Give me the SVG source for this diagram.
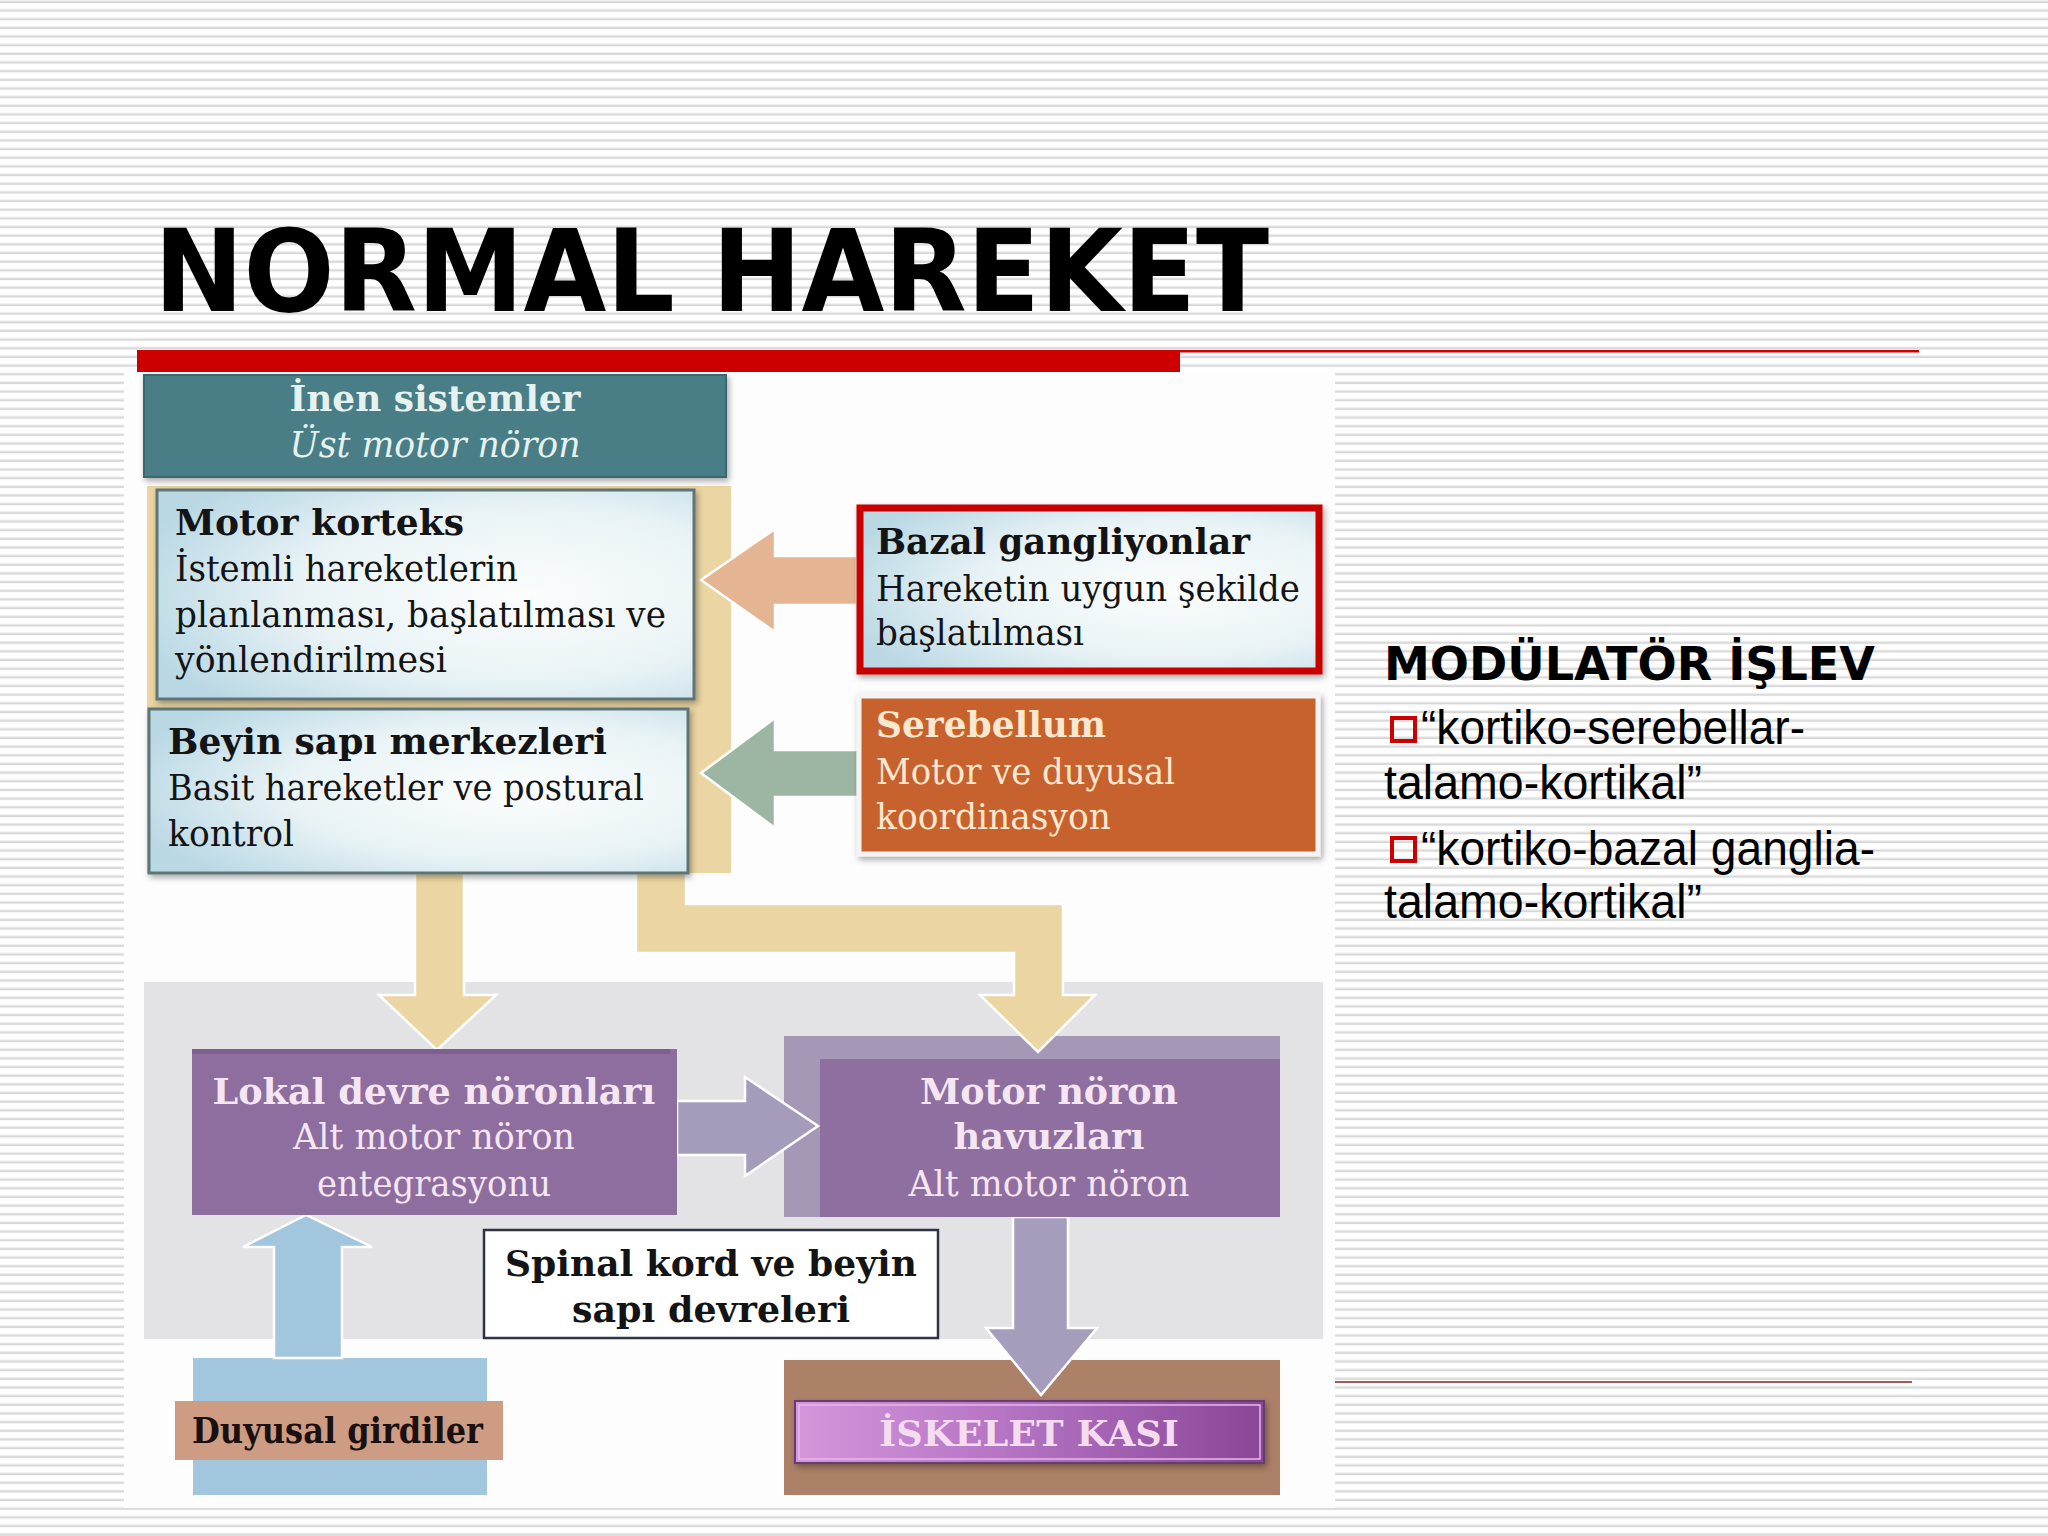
<svg xmlns="http://www.w3.org/2000/svg" width="2048" height="1536" viewBox="0 0 2048 1536">
<defs>
<pattern id="stripes" patternUnits="userSpaceOnUse" width="32" height="8.66">
<rect width="32" height="8.66" fill="#ffffff"/>
<rect y="0.4" width="32" height="1" fill="#e6e6e6"/>
<rect y="1.2" width="32" height="1.8" fill="#d6d6d6"/>
</pattern>
<radialGradient id="lightBlue" cx="0.68" cy="0.5" r="0.75">
<stop offset="0" stop-color="#fbfdfd"/>
<stop offset="0.55" stop-color="#e9f3f6"/>
<stop offset="1" stop-color="#b9d8e4"/>
</radialGradient>
<linearGradient id="iskelet" x1="0" y1="0" x2="1" y2="0">
<stop offset="0" stop-color="#d596dc"/>
<stop offset="0.5" stop-color="#b070c0"/>
<stop offset="1" stop-color="#8a4696"/>
</linearGradient>
<filter id="shadow" x="-10%" y="-10%" width="120%" height="125%">
<feDropShadow dx="2" dy="3" stdDeviation="3" flood-color="#000" flood-opacity="0.35"/>
</filter>
<style>
.dt{font-family:"DejaVu Serif","Liberation Serif",serif;font-size:35px;}
.b{font-weight:bold;}
.it{font-style:italic;}
.dark{fill:#141414;}
.pale{fill:#f6e6f4;}
.arrowline{stroke:#ffffff;stroke-width:2.5;stroke-linejoin:miter;}
.side{font-family:"Liberation Sans",Arial,sans-serif;font-size:49px;fill:#000;}
.bullet{fill:none;stroke:#cc0000;stroke-width:4;}
</style>
</defs>

<!-- slide background -->
<rect x="0" y="0" width="2048" height="1536" fill="url(#stripes)"/>

<!-- title -->
<text x="154" y="311" font-family="'DejaVu Sans','Liberation Sans',sans-serif" font-weight="bold" font-size="114" textLength="1115" lengthAdjust="spacingAndGlyphs" fill="#000">NORMAL HAREKET</text>

<!-- picture area -->
<rect x="124" y="372" width="1211" height="1136" fill="#fdfdfd"/>

<!-- red rule -->
<rect x="137" y="350" width="1043" height="22" fill="#cc0000"/>
<rect x="1180" y="350" width="739" height="2.5" fill="#cc0000"/>
<rect x="1335" y="1381" width="577" height="2" fill="#a05a5a"/>

<!-- background panels -->
<g id="panels">
<rect x="144" y="982" width="1179" height="357" fill="#e3e3e5"/>
<rect x="147" y="486" width="584" height="387" fill="#ebd5a2"/>
<rect x="193" y="1358" width="294" height="137" fill="#a3c6df"/>
<rect x="784" y="1360" width="496" height="135" fill="#ad8068"/>
<rect x="784" y="1036" width="496" height="181" fill="#a598b6"/>
</g>

<!-- connectors -->
<g id="connectors">
<polygon class="arrowline" points="415,873 464,873 464,995 496,995 437,1050 379,995 415,995" fill="#ebd5a2"/>
<path class="arrowline" d="M636,873 L686,873 L686,904 L1063,904 L1063,995 L1095,995 L1038,1052 L980,995 L1014,995 L1014,953 L636,953 Z" fill="#ebd5a2"/>
<polygon class="arrowline" points="857,556 775,556 775,529 701,580 775,632 775,605 857,605" fill="#e5b593"/>
<polygon class="arrowline" points="858,750 775,750 775,718 701,773 775,828 775,797 858,797" fill="#9db6a3"/>
<polygon class="arrowline" points="677,1101 745,1101 745,1077 818,1126 745,1176 745,1155 677,1155" fill="#a59bbb"/>
<polygon class="arrowline" points="1013,1217 1068,1217 1068,1328 1097,1328 1041,1395 986,1328 1013,1328" fill="#a69dbd"/>
<polygon class="arrowline" points="274,1358 274,1247 243,1247 306,1215 372,1247 342,1247 342,1358" fill="#a3c6df"/>
</g>

<g id="inen-sistemler">
<rect x="144" y="375" width="582" height="102" fill="#4a7e86" stroke="#3b6870" stroke-width="2" filter="url(#shadow)"/>
<text class="dt b" x="435" y="411" text-anchor="middle" fill="#e6f2f0" textLength="291" lengthAdjust="spacingAndGlyphs">İnen sistemler</text>
<text class="dt it" x="435" y="457" text-anchor="middle" fill="#e6f2f0" textLength="291" lengthAdjust="spacingAndGlyphs">Üst motor nöron</text>
</g>

<g id="motor-korteks">
<rect x="157" y="490" width="537" height="209" fill="url(#lightBlue)" stroke="#5f7474" stroke-width="3" filter="url(#shadow)"/>
<text class="dt b dark" x="175" y="535" textLength="289" lengthAdjust="spacingAndGlyphs">Motor korteks</text>
<text class="dt dark" x="175" y="581" textLength="343" lengthAdjust="spacingAndGlyphs">İstemli hareketlerin</text>
<text class="dt dark" x="175" y="627" textLength="491" lengthAdjust="spacingAndGlyphs">planlanması, başlatılması ve</text>
<text class="dt dark" x="175" y="672" textLength="272" lengthAdjust="spacingAndGlyphs">yönlendirilmesi</text>
</g>

<g id="beyin-sapi">
<rect x="149" y="709" width="539" height="164" fill="url(#lightBlue)" stroke="#5f7474" stroke-width="3" filter="url(#shadow)"/>
<text class="dt b dark" x="168" y="754" textLength="439" lengthAdjust="spacingAndGlyphs">Beyin sapı merkezleri</text>
<text class="dt dark" x="168" y="800" textLength="476" lengthAdjust="spacingAndGlyphs">Basit hareketler ve postural</text>
<text class="dt dark" x="168" y="846" textLength="126" lengthAdjust="spacingAndGlyphs">kontrol</text>
</g>

<g id="bazal-gangliyonlar">
<rect x="860" y="508" width="459" height="163" fill="url(#lightBlue)" stroke="#c80000" stroke-width="7" filter="url(#shadow)"/>
<text class="dt b dark" x="876" y="554" textLength="374" lengthAdjust="spacingAndGlyphs">Bazal gangliyonlar</text>
<text class="dt dark" x="876" y="601" textLength="424" lengthAdjust="spacingAndGlyphs">Hareketin uygun şekilde</text>
<text class="dt dark" x="876" y="645" textLength="208" lengthAdjust="spacingAndGlyphs">başlatılması</text>
</g>

<g id="serebellum">
<rect x="859" y="696" width="459" height="158" fill="#c7622e" stroke="#f4f4f4" stroke-width="5" filter="url(#shadow)"/>
<text class="dt b" x="876" y="737" fill="#fbe8cf" textLength="230" lengthAdjust="spacingAndGlyphs">Serebellum</text>
<text class="dt" x="876" y="784" fill="#fbe8cf" textLength="299" lengthAdjust="spacingAndGlyphs">Motor ve duyusal</text>
<text class="dt" x="876" y="829" fill="#fbe8cf" textLength="235" lengthAdjust="spacingAndGlyphs">koordinasyon</text>
</g>

<g id="lokal-devre">
<rect x="192" y="1049" width="485" height="166" fill="#8e6e9e"/>
<rect x="192" y="1049" width="478" height="5" fill="#7e6090"/>
<text class="dt b pale" x="434" y="1104" text-anchor="middle" textLength="443" lengthAdjust="spacingAndGlyphs">Lokal devre nöronları</text>
<text class="dt pale" x="434" y="1149" text-anchor="middle" textLength="282" lengthAdjust="spacingAndGlyphs">Alt motor nöron</text>
<text class="dt pale" x="434" y="1196" text-anchor="middle" textLength="234" lengthAdjust="spacingAndGlyphs">entegrasyonu</text>
</g>

<g id="motor-noron-havuzlari">
<rect x="820" y="1059" width="460" height="158" fill="#8f6f9f"/>
<text class="dt b pale" x="1049" y="1104" text-anchor="middle" textLength="258" lengthAdjust="spacingAndGlyphs">Motor nöron</text>
<text class="dt b pale" x="1049" y="1149" text-anchor="middle" textLength="191" lengthAdjust="spacingAndGlyphs">havuzları</text>
<text class="dt pale" x="1049" y="1196" text-anchor="middle" textLength="281" lengthAdjust="spacingAndGlyphs">Alt motor nöron</text>
</g>

<g id="spinal-kord">
<rect x="484" y="1230" width="454" height="108" fill="#ffffff" stroke="#2e3444" stroke-width="2.5"/>
<text class="dt b dark" x="711" y="1276" text-anchor="middle" textLength="412" lengthAdjust="spacingAndGlyphs">Spinal kord ve beyin</text>
<text class="dt b dark" x="711" y="1322" text-anchor="middle" textLength="278" lengthAdjust="spacingAndGlyphs">sapı devreleri</text>
</g>

<g id="iskelet-kasi">
<rect x="795" y="1401" width="469" height="62" fill="url(#iskelet)" stroke="#6a3a72" stroke-width="2" filter="url(#shadow)"/>
<rect x="799" y="1405" width="461" height="54" fill="none" stroke="#e6b8ea" stroke-width="1.5"/>
<text class="dt b" x="1029" y="1446" text-anchor="middle" fill="#f6dcf0" textLength="300" lengthAdjust="spacingAndGlyphs">İSKELET KASI</text>
</g>

<g id="duyusal-girdiler">
<rect x="175" y="1401" width="328" height="59" fill="#cd9c82"/>
<text class="dt b" x="192" y="1443" fill="#1a1010" textLength="291" lengthAdjust="spacingAndGlyphs">Duyusal girdiler</text>
</g>

<!-- side text -->
<g id="modulator">
<text x="1384" y="680" font-family="'DejaVu Sans','Liberation Sans',sans-serif" font-weight="bold" font-size="47" textLength="491" lengthAdjust="spacingAndGlyphs" fill="#000">MODÜLATÖR İŞLEV</text>
<rect class="bullet" x="1392" y="718" width="23" height="23"/>
<text class="side" x="1421" y="744" textLength="384" lengthAdjust="spacingAndGlyphs">“kortiko-serebellar-</text>
<text class="side" x="1384" y="799" textLength="318" lengthAdjust="spacingAndGlyphs">talamo-kortikal”</text>
<rect class="bullet" x="1392" y="838" width="23" height="23"/>
<text class="side" x="1421" y="865" textLength="454" lengthAdjust="spacingAndGlyphs">“kortiko-bazal ganglia-</text>
<text class="side" x="1384" y="918" textLength="318" lengthAdjust="spacingAndGlyphs">talamo-kortikal”</text>
</g>
</svg>
